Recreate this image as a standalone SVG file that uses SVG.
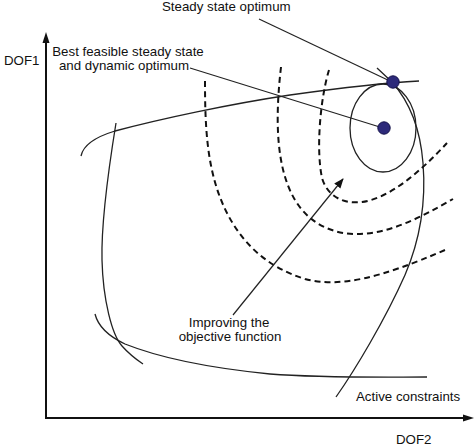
<svg xmlns="http://www.w3.org/2000/svg" width="474" height="448" viewBox="0 0 474 448">
<defs>
<style>
.t{font-family:"Liberation Sans",Arial,sans-serif;font-size:13.3px;fill:#111}
.axis{stroke:#111;stroke-width:2;fill:none}
.c{stroke:#222;stroke-width:1.3;fill:none}
.d{stroke:#111;stroke-width:2;fill:none;stroke-dasharray:6 4}
.l{stroke:#222;stroke-width:1.2;fill:none}
.dot{fill:#2d2a7a;stroke:#15124a;stroke-width:1}
</style>
<marker id="ah" viewBox="0 0 10 10" refX="9" refY="5" markerWidth="10" markerHeight="10" markerUnits="userSpaceOnUse" orient="auto">
<path d="M0,1 L10,5 L0,9 Z" fill="#111"/>
</marker>
</defs>
<rect width="474" height="448" fill="#fff"/>
<g id="axes">
<line class="axis" x1="46" y1="418" x2="46" y2="42"/>
<path d="M46,32 L42.5,43 L49.5,43 Z" fill="#111"/>
<line class="axis" x1="45" y1="418" x2="463" y2="418"/>
<path d="M474,418 L463,414.5 L463,421.5 Z" fill="#111"/>
</g>
<g id="constraints">
<path class="c" d="M81 156 C83 146,92 138,115 131 C160 119,230 104,290 95 C340 88,380 83,419 81"/>
<path class="c" d="M116 123 C110 160,101 220,102 260 C103 300,112 335,122 346 C130 355,137 360,143 364"/>
<path class="c" d="M95 314 C98 326,108 336,125 344 C160 358,210 368,270 374 C320 378,380 377,427 377"/>
<path class="c" d="M377 68 L392 82 C408 100,420 125,423 163 C426 200,420 240,405 275 C385 320,355 370,336 397"/>
</g>
<g id="contours">
<path class="d" d="M205 81 C205 130,207 175,228 215 C245 247,270 268,305 279 C340 288,380 278,445 250"/>
<path class="d" d="M281 67 C276 110,274 165,295 200 C310 225,335 235,360 234 C390 233,420 218,453 199"/>
<path class="d" d="M329 70 C320 100,316 150,322 178 C328 198,345 204,362 202 C390 198,420 172,447 143"/>
<ellipse class="c" cx="383" cy="128" rx="33" ry="44"/>
</g>
<g id="connectors">
<line class="l" x1="259" y1="19" x2="392" y2="82"/>
<line class="l" x1="190" y1="68" x2="383" y2="128"/>
<line class="l" x1="233" y1="315" x2="343" y2="179" marker-end="url(#ah)"/>
</g>
<g id="steady-state-optimum">
<circle class="dot" cx="393" cy="82" r="6.2"/>
<text class="t" x="162" y="11">Steady state optimum</text>
</g>
<g id="best-feasible">
<circle class="dot" cx="384" cy="128" r="6.2"/>
<text class="t" text-anchor="middle" x="128" y="56">Best feasible steady state</text>
<text class="t" text-anchor="middle" x="124" y="70">and dynamic optimum</text>
</g>
<g id="improving">
<text class="t" text-anchor="middle" x="229" y="327">Improving the</text>
<text class="t" text-anchor="middle" x="230" y="341">objective function</text>
</g>
<g id="active-constraints">
<text class="t" x="356" y="401">Active constraints</text>
</g>
<g id="labels">
<text class="t" x="4" y="65">DOF1</text>
<text class="t" x="396" y="444">DOF2</text>
</g>
</svg>
